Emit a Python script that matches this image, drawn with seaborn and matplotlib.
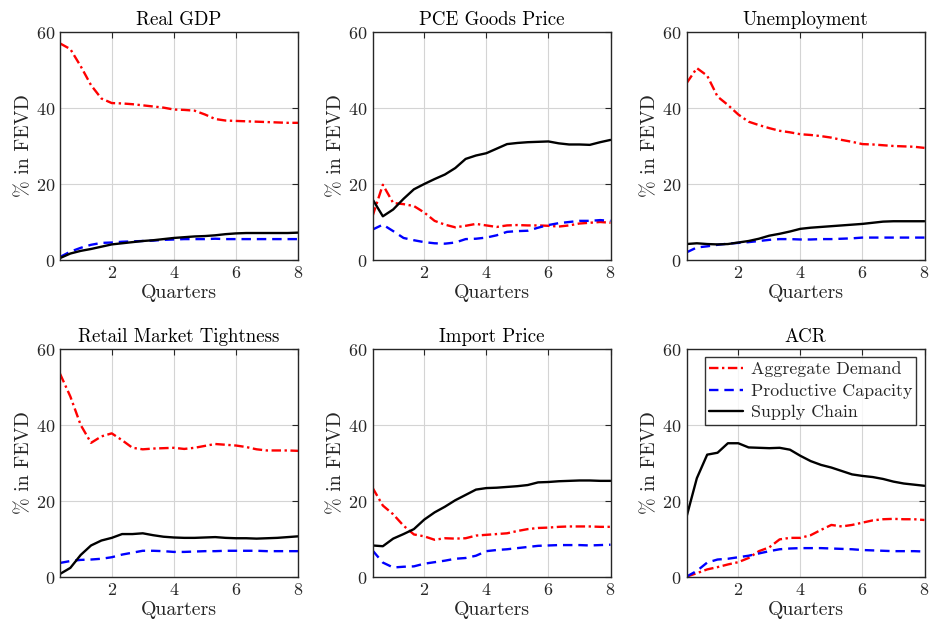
import numpy as np
import pandas as pd
import matplotlib
matplotlib.use("Agg")
import matplotlib.pyplot as plt
import seaborn as sns

# horizons: monthly steps expressed in quarters
quarters = np.arange(1, 25) / 3

titles = ["Real GDP", "PCE Goods Price", "Unemployment",
          "Retail Market Tightness", "Import Price", "ACR"]

aggregate_demand = [
    [57, 55.5, 51, 46, 42.5, 41.3, 41.2, 41, 40.7, 40.4, 40.1, 39.6,
     39.5, 39.3, 38.3, 37.1, 36.7, 36.6, 36.5, 36.4, 36.3, 36.2, 36.1, 36.1],
    [11.5, 19.8, 15, 14.7, 14.2, 12.5, 10.3, 9.3, 8.6, 9, 9.5, 9.1,
     8.7, 9.1, 9.2, 9.1, 9.1, 9.0, 8.8, 9.1, 9.6, 9.8, 10, 9.8],
    [46.5, 50.5, 48.5, 43, 40.8, 38.3, 36.4, 35.5, 34.7, 34.0, 33.6, 33.1,
     32.9, 32.6, 32.2, 31.6, 31.1, 30.5, 30.4, 30.2, 30.0, 29.9, 29.8, 29.5],
    [53.5, 47.5, 40, 35.3, 37, 37.8, 36, 34, 33.6, 33.8, 33.9, 34,
     33.7, 34, 34.5, 35, 34.8, 34.6, 34.2, 33.6, 33.3, 33.3, 33.3, 33.2],
    [23.5, 18.8, 16.5, 13.5, 11.2, 10.7, 9.8, 10.2, 10.1, 10.2, 10.9, 11.1,
     11.3, 11.5, 12.1, 12.6, 12.9, 13.0, 13.2, 13.3, 13.3, 13.3, 13.2, 13.2],
    [0.1, 1.0, 2.0, 2.6, 3.3, 3.9, 5.0, 6.8, 7.8, 9.9, 10.3, 10.3,
     11.0, 12.4, 13.7, 13.3, 13.7, 14.3, 14.9, 15.2, 15.3, 15.2, 15.2, 15.0],
]

productive_capacity = [
    [0.8, 2.2, 3.2, 4, 4.5, 4.6, 4.8, 4.9, 5, 5.1, 5.3, 5.4,
     5.5, 5.5, 5.5, 5.6, 5.5, 5.5, 5.5, 5.5, 5.5, 5.5, 5.5, 5.5],
    [8, 9.3, 7.6, 5.8, 5.2, 4.7, 4.4, 4.3, 4.6, 5.5, 5.6, 5.9,
     6.5, 7.4, 7.6, 7.7, 8.5, 9.2, 9.7, 10.0, 10.3, 10.3, 10.5, 10.3],
    [2, 3.3, 3.6, 4.0, 4.3, 4.5, 4.7, 5.0, 5.3, 5.5, 5.5, 5.4,
     5.4, 5.5, 5.5, 5.6, 5.7, 5.9, 5.9, 5.9, 5.9, 5.9, 5.9, 5.9],
    [3.7, 4.2, 4.5, 4.6, 4.8, 5.2, 5.9, 6.4, 6.9, 6.9, 6.8, 6.6,
     6.6, 6.7, 6.8, 6.8, 6.9, 6.9, 6.9, 6.9, 6.8, 6.8, 6.8, 6.8],
    [7, 3.8, 2.5, 2.7, 2.8, 3.5, 3.9, 4.3, 4.8, 5.0, 5.6, 6.8,
     7.1, 7.3, 7.6, 7.9, 8.2, 8.3, 8.4, 8.4, 8.4, 8.3, 8.4, 8.5],
    [0.1, 1.6, 3.8, 4.6, 4.8, 5.2, 5.6, 6.2, 6.8, 7.3, 7.5, 7.6,
     7.6, 7.6, 7.5, 7.4, 7.3, 7.1, 7.0, 6.9, 6.8, 6.8, 6.8, 6.7],
]

supply_chain = [
    [0.5, 1.7, 2.4, 2.9, 3.5, 4.1, 4.4, 4.7, 5.0, 5.2, 5.5, 5.8,
     6.0, 6.2, 6.3, 6.5, 6.8, 7.0, 7.1, 7.1, 7.1, 7.1, 7.1, 7.2],
    [16, 11.5, 13.3, 16.1, 18.6, 20, 21.3, 22.5, 24.2, 26.6, 27.5, 28.1,
     29.3, 30.5, 30.8, 31.0, 31.1, 31.2, 30.7, 30.4, 30.4, 30.3, 31.0, 31.6],
    [4.2, 4.4, 4.2, 4.1, 4.2, 4.6, 5.0, 5.6, 6.4, 6.9, 7.5, 8.2,
     8.5, 8.7, 8.9, 9.1, 9.3, 9.5, 9.8, 10.1, 10.2, 10.2, 10.2, 10.2],
    [0.8, 2.4, 5.8, 8.3, 9.6, 10.3, 11.3, 11.3, 11.5, 11.0, 10.6, 10.4,
     10.3, 10.3, 10.4, 10.5, 10.3, 10.2, 10.2, 10.1, 10.2, 10.3, 10.5, 10.7],
    [8.3, 8.1, 10.1, 11.3, 12.6, 15.1, 17.0, 18.5, 20.2, 21.6, 23.0, 23.4,
     23.5, 23.7, 23.9, 24.2, 24.9, 25.0, 25.2, 25.3, 25.4, 25.4, 25.3, 25.3],
    [15.8, 26, 32.2, 32.7, 35.2, 35.2, 34.1, 34.0, 33.9, 34.0, 33.5, 31.9,
     30.5, 29.5, 28.8, 27.9, 27.0, 26.6, 26.3, 25.8, 25.1, 24.6, 24.3, 24.0],
]

sns.set_style("white")
plt.rcParams["font.family"] = "serif"
plt.rcParams["font.serif"] = ["cmr10"]
plt.rcParams["mathtext.fontset"] = "cm"
plt.rcParams["axes.formatter.use_mathtext"] = True

fig = plt.figure(figsize=(9.3, 6.31), dpi=100)

lefts = [60 / 930, 372.5 / 930, 686.5 / 930]
bottoms = [1 - 260 / 631, 1 - 577 / 631]
w, h = 238 / 930, 228 / 631

series = [("Aggregate Demand", aggregate_demand, "red", (0, (4, 1.5, 1, 1.5))),
          ("Productive Capacity", productive_capacity, "blue", (0, (4, 2.5))),
          ("Supply Chain", supply_chain, "black", "-")]

for i, title in enumerate(titles):
    ax = fig.add_axes([lefts[i % 3], bottoms[i // 3], w, h])
    for name, data, col, ls in series:
        df = pd.DataFrame({"q": quarters, "v": data[i]})
        sns.lineplot(data=df, x="q", y="v", ax=ax, color=col, linestyle=ls,
                     linewidth=1.7, label=name if i == 5 else None)
    ax.set_xlim(1 / 3, 8)
    ax.set_ylim(0, 60)
    ax.set_xticks([2, 4, 6, 8])
    ax.set_yticks([0, 20, 40, 60])
    ax.grid(True, color="#d4d4d4", linewidth=0.8)
    ax.tick_params(direction="in", top=True, right=True, length=4,
                   labelsize=13, colors="#262626", width=0.8)
    for sp in ax.spines.values():
        sp.set_color("#262626")
        sp.set_linewidth(1.0)
    ax.set_title(title, fontsize=13.6, color="black", pad=5)
    ax.set_xlabel("Quarters", fontsize=14.3, color="#262626", labelpad=2)
    ax.set_ylabel(r"% in FEVD", fontsize=14.3, color="#262626", labelpad=2)
    if i == 5:
        leg = ax.legend(loc="upper right", fontsize=12.9, frameon=True,
                        fancybox=False, edgecolor="black", handlelength=1.9,
                        borderpad=0.25, labelspacing=0.32, borderaxespad=0.45,
                        handletextpad=0.4)
        leg.get_frame().set_linewidth(1.0)
    elif ax.get_legend() is not None:
        ax.get_legend().remove()

fig.savefig("out.png", dpi=100)
